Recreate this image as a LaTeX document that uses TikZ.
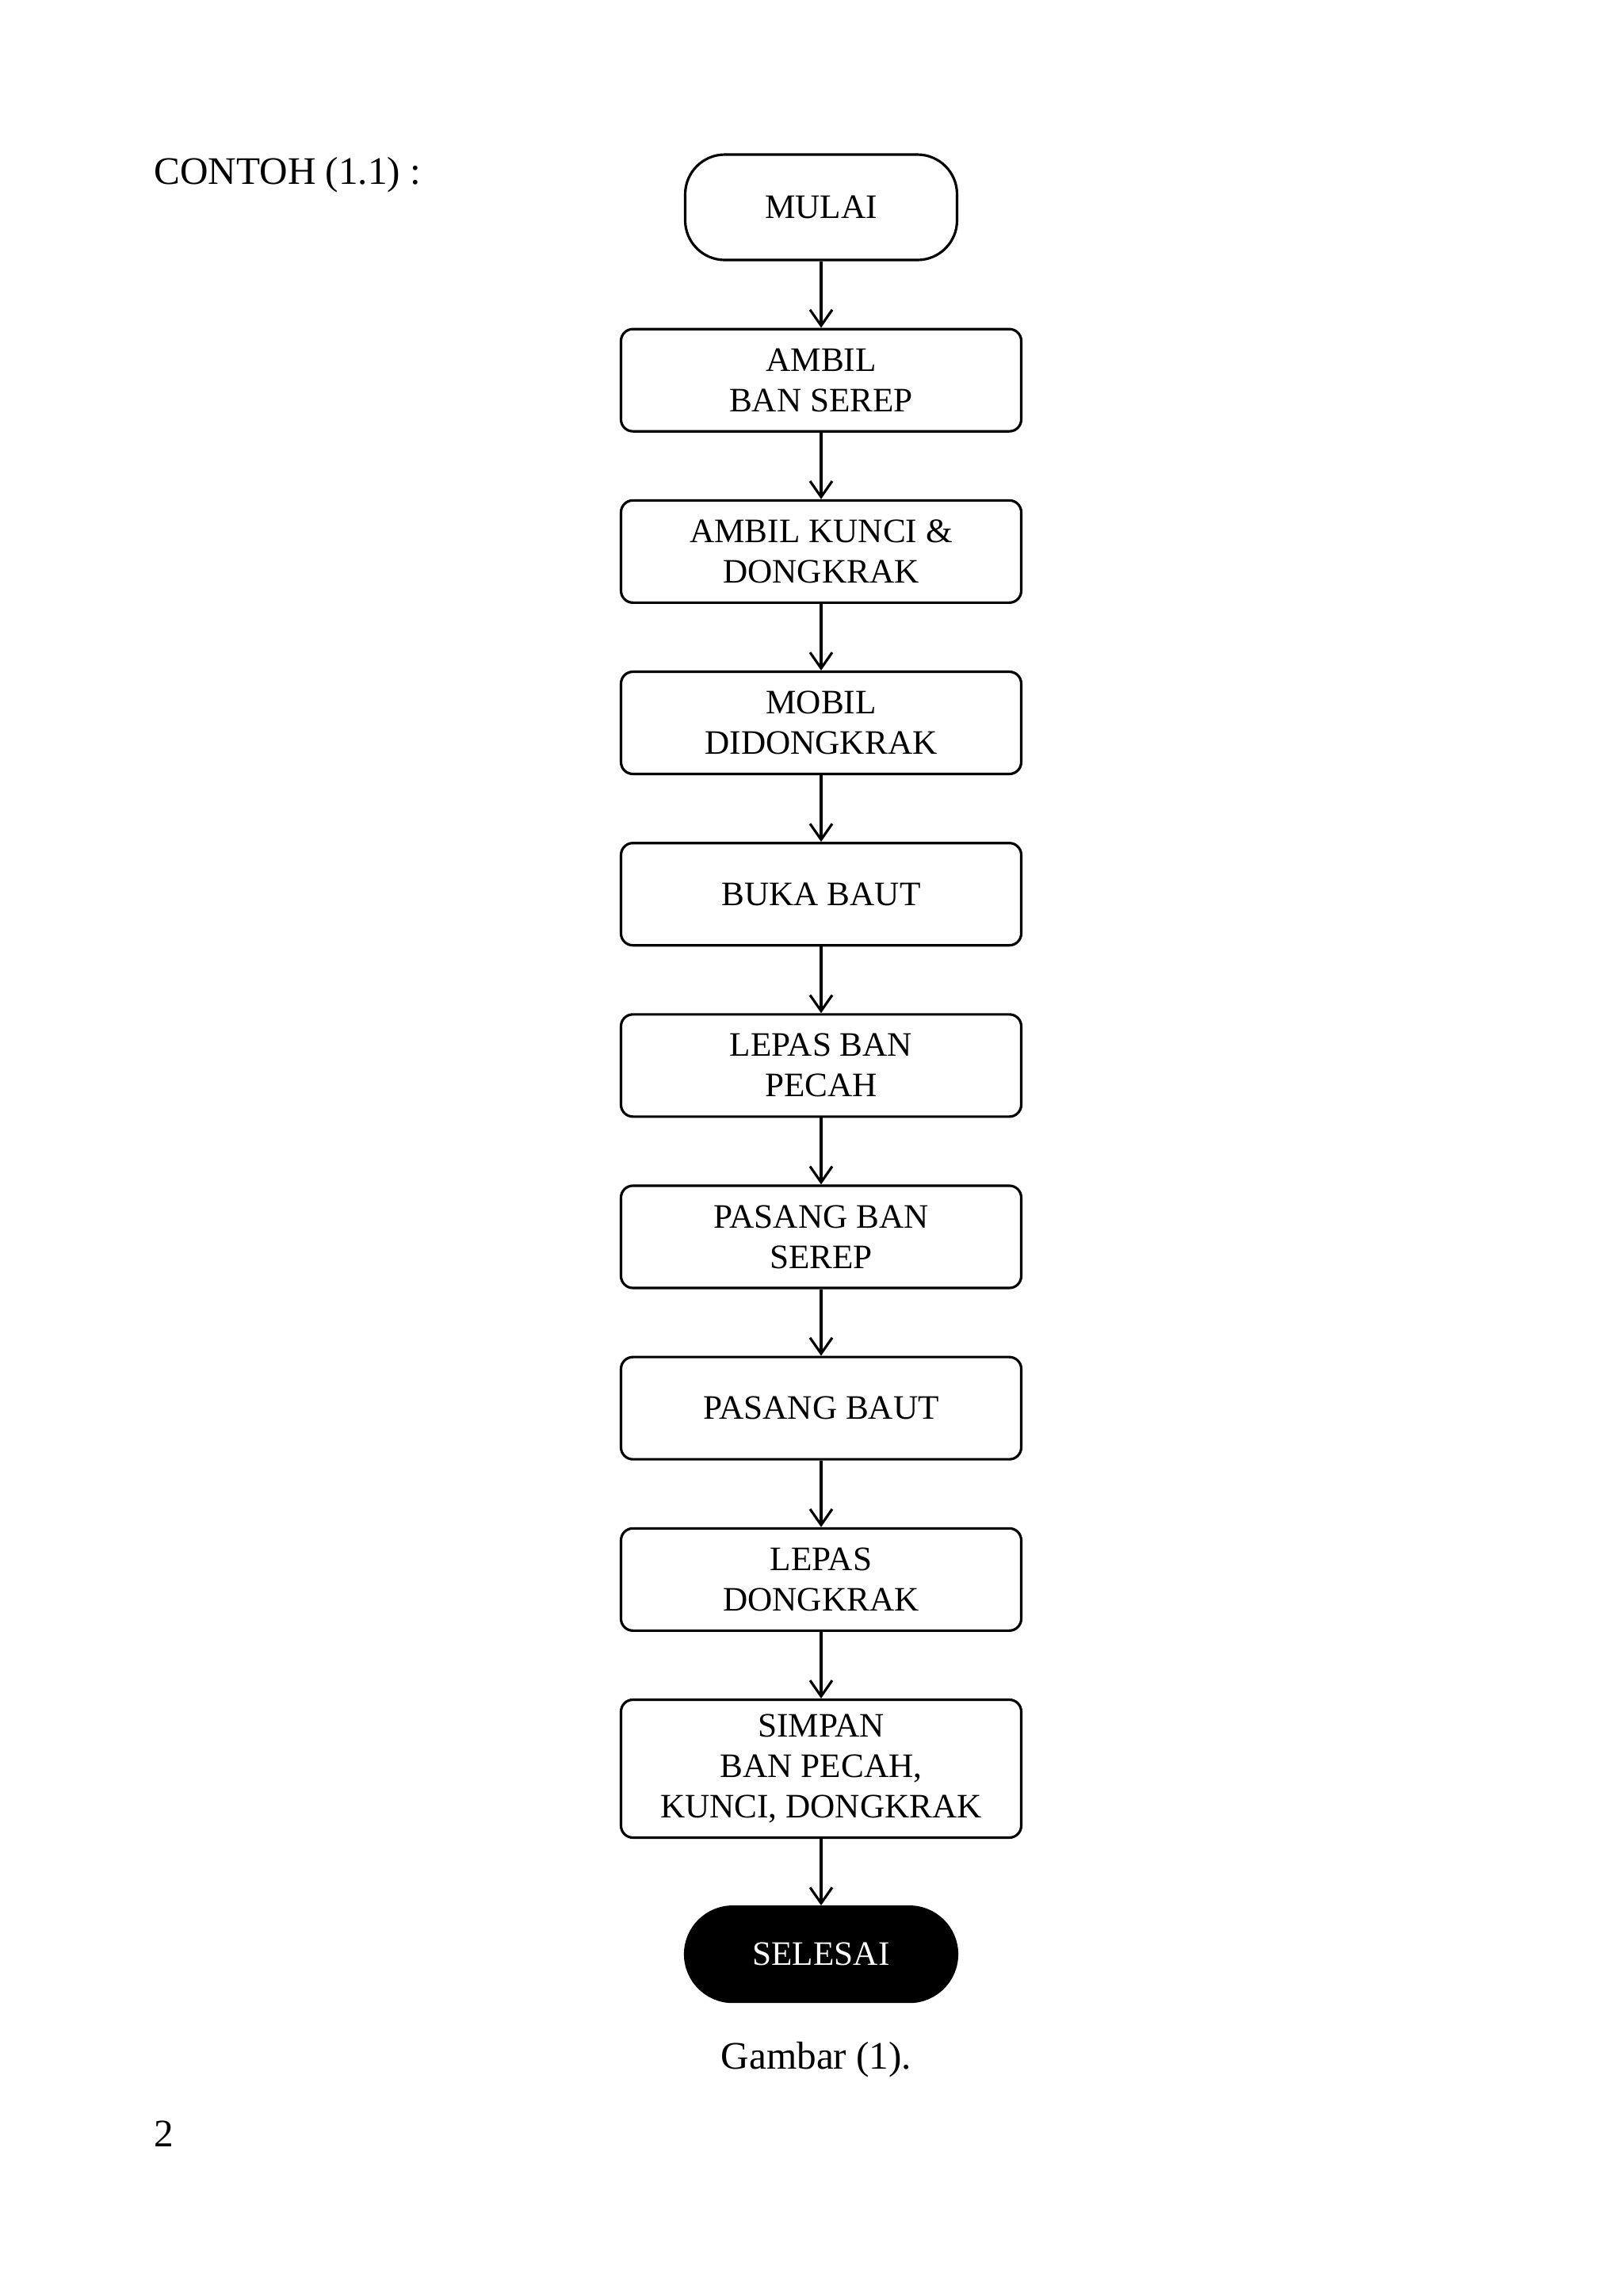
\documentclass[tikz,border=0pt]{standalone}
\usepackage{fontspec}
\setmainfont{Liberation Serif}
\usetikzlibrary{arrows.meta,positioning}

\begin{document}
\begin{tikzpicture}[>={Straight Barb[length=2mm,width=2.8mm]},node distance=8.4mm,line width=0.9pt,
  langkah/.style={draw,rounded corners=1.5mm,align=center,minimum width=5.05cm,minimum height=1.29cm,inner sep=0pt,font=\fontsize{12.3}{14.5}\selectfont},
  ujung/.style={draw,rounded corners=6mm,align=center,minimum width=3.43cm,minimum height=1.2cm,font=\fontsize{12.3}{14.5}\selectfont},
  teks/.style={inner sep=0pt,font=\fontsize{14}{16}\selectfont}]
\useasboundingbox (0,0) rectangle (20.48,-28.88);
\node[teks,anchor=base west] (contoh) at (1.93,-2.32) {CONTOH (1.1) :};
\node[ujung,rounded corners=5mm,minimum height=1.33cm] (mulai) at (10.36,-2.615) {MULAI};
\node[langkah,below=of mulai] (ambilban) {AMBIL\\BAN SEREP};
\node[langkah,below=of ambilban] (ambilkunci) {AMBIL KUNCI \&\\DONGKRAK};
\node[langkah,below=of ambilkunci] (dongkrak) {MOBIL\\DIDONGKRAK};
\node[langkah,below=of dongkrak] (bukabaut) {BUKA BAUT};
\node[langkah,below=of bukabaut] (lepasban) {LEPAS BAN\\PECAH};
\node[langkah,below=of lepasban] (pasangban) {PASANG BAN\\SEREP};
\node[langkah,below=of pasangban] (pasangbaut) {PASANG BAUT};
\node[langkah,below=of pasangbaut] (lepasdongkrak) {LEPAS\\DONGKRAK};
\node[langkah,minimum height=1.74cm,below=of lepasdongkrak] (simpan) {SIMPAN\\BAN PECAH,\\KUNCI, DONGKRAK};
\node[ujung,fill=black,text=white,below=of simpan] (selesai) {SELESAI};
\node[teks,anchor=base] (gambar) at (10.30,-26.10) {Gambar (1).};
\node[teks,anchor=base west] (halaman) at (1.93,-27.08) {2};
\draw[->] (mulai)--(ambilban);
\draw[->] (ambilban)--(ambilkunci);
\draw[->] (ambilkunci)--(dongkrak);
\draw[->] (dongkrak)--(bukabaut);
\draw[->] (bukabaut)--(lepasban);
\draw[->] (lepasban)--(pasangban);
\draw[->] (pasangban)--(pasangbaut);
\draw[->] (pasangbaut)--(lepasdongkrak);
\draw[->] (lepasdongkrak)--(simpan);
\draw[->] (simpan)--(selesai);
\end{tikzpicture}
\end{document}
